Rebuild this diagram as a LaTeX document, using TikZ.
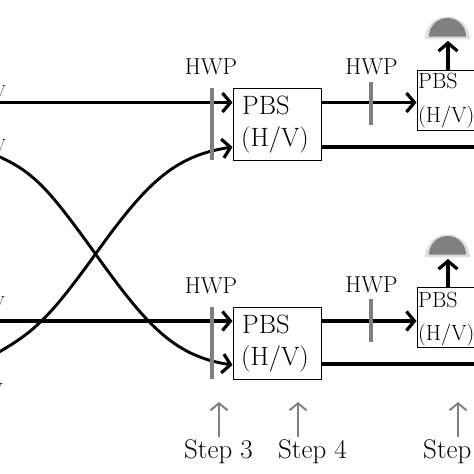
\documentclass[tikz,border=0pt]{standalone}
\usetikzlibrary{arrows.meta}
\tikzset{
  x=1pt,y=-1pt,
  beam/.style={line width=3.2pt,black},
  beamtip/.style={-{Straight Barb[length=8pt,width=19pt,line width=3.2pt]}},
  beamarrow/.style={beam,beamtip},
  wave/.style={line width=2.9pt,black,beamtip},
  plate/.style={line width=4.5pt,draw=black!50},
  bigbox/.style={draw=black,line width=0.9pt,fill=white,minimum width=88pt,minimum height=72pt,inner sep=0pt},
  smallbox/.style={draw=black,line width=0.9pt,fill=white,minimum width=80pt,minimum height=60pt,inner sep=0pt},
  steparrow/.style={line width=2.6pt,draw=black!50,-{Straight Barb[length=7pt,width=17pt,line width=2pt]}},
  lab/.style={inner sep=0pt,anchor=base west,font=\fontsize{26.5}{26.5}\selectfont,text=black},
  smalllab/.style={inner sep=0pt,anchor=base west,font=\fontsize{22}{22}\selectfont,text=black},
  hwp/.style={inner sep=0pt,anchor=base,font=\fontsize{23}{23}\selectfont,text=black},
  steplab/.style={inner sep=0pt,anchor=base west,font=\fontsize{27}{27}\selectfont,text=black},
  cutlab/.style={inner sep=0pt,anchor=base east,font=\fontsize{17.5}{17.5}\selectfont,text=black},
  detout/.style={fill=black!13},
  detin/.style={fill=black!50},
}
\begin{document}
\begin{tikzpicture}
\useasboundingbox (0,0) rectangle (474,474);
\clip (0,0) rectangle (474,474);
% clipped labels at the left margin
\node[cutlab] (va) at (6,97.5) {V};
\node[cutlab] (vb) at (6,151) {V};
\node[cutlab] (vc) at (5,308) {V};
\node[cutlab] (vd) at (3,395) {V};
% boxes
\node[bigbox] (p1) at (277,124) {};
\node[bigbox] (p2) at (277,343) {};
\node[smallbox] (s1) at (457,100) {};
\node[smallbox] (s2) at (457,317) {};
% free ends
\coordinate (a1) at (-5,102.5);
\coordinate (a2) at (-5,321);
\coordinate (c1s) at (-8,153.5);
\coordinate (c2s) at (-8,355);
\coordinate (x) at (95.5,254);
\coordinate (o1) at (480,147);
\coordinate (o2) at (480,364);
\coordinate (d1) at (448,41);
\coordinate (d2) at (448,259);
\coordinate (t1) at (219,402);\coordinate (b1) at (219,437);
\coordinate (t2) at (298,402);\coordinate (b2) at (298,437);
\coordinate (t3) at (458,402);\coordinate (b3) at (458,437);
% beams
\draw[beamarrow] (a1) -- (p1.west |- a1);
\draw[beamarrow] (a2) -- (p2.west |- a2);
\draw[wave] (c2s) -- (0,351.5) .. controls (35,331) and (50.5,316.5) .. (x)
  .. controls (145.5,184.5) and (173,156) .. (p1.west |- 0,147);
\draw[wave] (c1s) -- (0,157) .. controls (35,173) and (50.5,191.5) .. (x)
  .. controls (145.5,323.5) and (173,356) .. (p2.west |- 0,365);
\draw[beamarrow] (p1.east |- a1) -- (s1.west |- a1);
\draw[beamarrow] (p2.east |- a2) -- (s2.west |- a2);
\draw[beam] (p1.east |- o1) -- (o1);
\draw[beam] (p2.east |- o2) -- (o2);
\draw[beamarrow] (d1 |- s1.north) -- (d1);
\draw[beamarrow] (d2 |- s2.north) -- (d2);
% wave plates
\draw[plate] (212,88) -- (212,160);
\draw[plate] (212,307) -- (212,379);
\draw[plate] (371,82) -- (371,125);
\draw[plate] (371,299) -- (371,342);
% detectors
\fill[detout] (425,39) arc[start angle=180,end angle=360,radius=22.5] -- cycle;
\fill[detin] (429,36.5) arc[start angle=180,end angle=360,radius=18.5] -- cycle;
\fill[detout] (425,257) arc[start angle=180,end angle=360,radius=22.5] -- cycle;
\fill[detin] (429,254.5) arc[start angle=180,end angle=360,radius=18.5] -- cycle;
% text
\node[lab] (l1) at (242,114) {PBS};
\node[lab] (l2) at (241,146) {(H/V)};
\node[lab] (l3) at (242,333) {PBS};
\node[lab] (l4) at (241,365) {(H/V)};
\node[smalllab] (l5) at (418,88) {PBS};
\node[smalllab] (l6) at (418,122) {(H/V)};
\node[smalllab] (l7) at (418,307) {PBS};
\node[smalllab] (l8) at (418,340) {(H/V)};
\node[hwp] (h1) at (211,74) {HWP};
\node[hwp] (h2) at (211,293) {HWP};
\node[hwp] (h3) at (371.5,74) {HWP};
\node[hwp] (h4) at (371.5,292) {HWP};
% steps
\draw[steparrow] (b1) -- (t1);
\draw[steparrow] (b2) -- (t2);
\draw[steparrow] (b3) -- (t3);
\node[steplab] (st1) at (184,458) {Step 3};
\node[steplab] (st2) at (278,458) {Step 4};
\node[steplab] (st3) at (423,458) {Step};
\end{tikzpicture}
\end{document}
